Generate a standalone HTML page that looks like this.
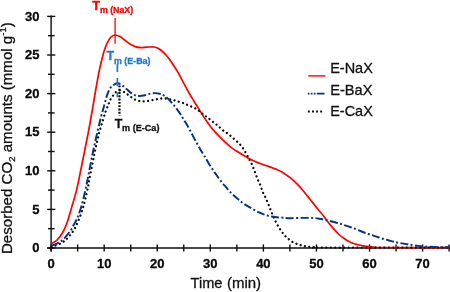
<!DOCTYPE html>
<html><head><meta charset="utf-8"><title>CO2 desorption</title>
<style>
html,body{margin:0;padding:0;background:#fff;}
body{width:450px;height:292px;overflow:hidden;}
svg{display:block;font-family:"Liberation Sans",sans-serif;}
text{stroke-width:0.3;stroke-linejoin:round;}
.k{stroke:#111;}
.b{font-weight:bold;font-size:13px;fill:#0a0a0a;stroke:#0a0a0a;}
.ax line{stroke:#0d0d0d;stroke-width:1.4;}
</style></head><body>
<svg width="450" height="292" viewBox="0 0 450 292">
<rect width="450" height="292" fill="#fff"/>
<g class="ax">
<line x1="51.1" y1="15.6" x2="51.1" y2="251.6"/>
<line x1="47.2" y1="248.0" x2="450" y2="248.0"/>
<line x1="51.10" y1="244.4" x2="51.10" y2="251.6"/><line x1="77.64" y1="244.4" x2="77.64" y2="251.6"/><line x1="104.17" y1="244.4" x2="104.17" y2="251.6"/><line x1="130.71" y1="244.4" x2="130.71" y2="251.6"/><line x1="157.24" y1="244.4" x2="157.24" y2="251.6"/><line x1="183.78" y1="244.4" x2="183.78" y2="251.6"/><line x1="210.31" y1="244.4" x2="210.31" y2="251.6"/><line x1="236.84" y1="244.4" x2="236.84" y2="251.6"/><line x1="263.38" y1="244.4" x2="263.38" y2="251.6"/><line x1="289.92" y1="244.4" x2="289.92" y2="251.6"/><line x1="316.45" y1="244.4" x2="316.45" y2="251.6"/><line x1="342.99" y1="244.4" x2="342.99" y2="251.6"/><line x1="369.52" y1="244.4" x2="369.52" y2="251.6"/><line x1="396.06" y1="244.4" x2="396.06" y2="251.6"/><line x1="422.59" y1="244.4" x2="422.59" y2="251.6"/><line x1="449.13" y1="244.4" x2="449.13" y2="251.6"/><line x1="47.2" y1="248.00" x2="55.3" y2="248.00"/><line x1="47.2" y1="209.40" x2="55.3" y2="209.40"/><line x1="47.2" y1="170.80" x2="55.3" y2="170.80"/><line x1="47.2" y1="132.20" x2="55.3" y2="132.20"/><line x1="47.2" y1="93.60" x2="55.3" y2="93.60"/><line x1="47.2" y1="55.00" x2="55.3" y2="55.00"/><line x1="47.2" y1="16.40" x2="55.3" y2="16.40"/><line x1="48" y1="228.70" x2="54.6" y2="228.70"/><line x1="48" y1="190.10" x2="54.6" y2="190.10"/><line x1="48" y1="151.50" x2="54.6" y2="151.50"/><line x1="48" y1="112.90" x2="54.6" y2="112.90"/><line x1="48" y1="74.30" x2="54.6" y2="74.30"/><line x1="48" y1="35.70" x2="54.6" y2="35.70"/>
</g>
<g class="b"><text x="51.10" y="268.3" text-anchor="middle">0</text><text x="104.17" y="268.3" text-anchor="middle">10</text><text x="157.24" y="268.3" text-anchor="middle">20</text><text x="210.31" y="268.3" text-anchor="middle">30</text><text x="263.38" y="268.3" text-anchor="middle">40</text><text x="316.45" y="268.3" text-anchor="middle">50</text><text x="369.52" y="268.3" text-anchor="middle">60</text><text x="422.59" y="268.3" text-anchor="middle">70</text><text x="39.4" y="252.15" text-anchor="end">0</text><text x="39.4" y="213.55" text-anchor="end">5</text><text x="39.4" y="174.95" text-anchor="end">10</text><text x="39.4" y="136.35" text-anchor="end">15</text><text x="39.4" y="97.75" text-anchor="end">20</text><text x="39.4" y="59.15" text-anchor="end">25</text><text x="39.4" y="20.55" text-anchor="end">30</text></g>
<text class="k" y="288.3" font-size="14.6" fill="#111"><tspan x="190.6">Time</tspan> <tspan x="226.9" textLength="34.2" lengthAdjust="spacingAndGlyphs">(min)</tspan></text>
<text transform="translate(12 254.1) rotate(-90)" class="k" font-size="15.1" fill="#111">Desorbed CO<tspan font-size="9.5" dy="3">2</tspan><tspan dy="-3"> amounts (mmol g</tspan><tspan font-size="9.5" dy="-6.5">-1</tspan><tspan dy="6.5">)</tspan></text>
<path d="M51.2 243.8C52.2 243.2 55.0 242.0 57.0 240.0C59.0 238.0 61.3 234.9 63.0 232.0C64.7 229.1 66.0 225.2 67.0 222.8C68.0 220.4 68.1 219.4 68.7 217.4C69.3 215.4 69.9 213.4 70.7 210.7C71.5 208.0 72.5 204.5 73.4 201.4C74.3 198.3 75.3 194.9 76.1 192.0C76.8 189.1 77.5 186.0 77.9 184.0C78.4 182.0 78.3 182.3 78.8 180.0C79.3 177.7 80.1 173.3 80.8 170.0C81.5 166.7 82.1 163.3 82.8 160.0C83.5 156.7 83.9 154.7 84.8 150.0C85.7 145.3 87.2 138.3 88.4 132.0C89.6 125.7 90.9 118.3 92.0 112.0C93.1 105.7 93.9 100.3 95.0 94.0C96.1 87.7 97.6 79.2 98.6 74.0C99.6 68.8 100.1 66.8 101.0 63.0C101.9 59.2 103.0 54.8 104.0 51.5C105.0 48.2 105.8 45.8 107.0 43.4C108.2 41.0 109.7 38.4 111.0 37.0C112.3 35.6 113.5 35.1 115.0 35.0C116.5 34.9 118.3 35.7 120.0 36.6C121.7 37.5 123.3 39.1 125.0 40.3C126.7 41.5 128.3 43.0 130.0 44.0C131.7 45.0 133.2 46.0 135.0 46.6C136.8 47.2 139.2 47.5 141.0 47.6C142.8 47.7 144.5 47.2 146.0 47.1C147.5 47.0 148.7 47.0 150.0 47.0C151.3 46.9 152.7 46.8 154.0 47.0C155.3 47.2 156.7 47.6 158.0 48.3C159.3 49.0 160.7 49.9 162.0 51.0C163.3 52.1 164.7 53.5 166.0 55.0C167.3 56.5 168.7 58.2 170.0 60.0C171.3 61.8 172.7 63.9 174.0 66.0C175.3 68.1 176.7 70.1 178.0 72.4C179.3 74.7 180.7 77.3 182.0 79.8C183.3 82.3 184.7 84.8 186.0 87.3C187.3 89.8 188.7 92.2 190.0 94.5C191.3 96.8 192.7 99.0 194.0 101.2C195.3 103.4 196.5 105.2 198.0 107.6C199.5 110.0 201.5 113.2 203.0 115.6C204.5 118.0 205.7 119.9 207.0 121.8C208.3 123.7 209.7 125.5 211.0 127.2C212.3 128.9 213.4 130.1 215.0 131.8C216.6 133.5 218.5 135.6 220.3 137.4C222.1 139.2 223.9 141.0 225.7 142.7C227.5 144.4 229.2 146.0 231.0 147.4C232.8 148.8 234.6 149.8 236.4 151.0C238.2 152.2 239.9 153.2 241.7 154.3C243.5 155.4 245.3 156.4 247.1 157.4C248.9 158.4 250.6 159.3 252.4 160.2C254.2 161.1 256.0 161.9 257.8 162.6C259.6 163.3 261.3 164.0 263.1 164.6C264.9 165.2 267.0 165.9 268.5 166.4C270.0 166.9 270.6 167.1 272.1 167.7C273.6 168.3 275.6 169.0 277.4 169.8C279.2 170.6 281.0 171.5 282.8 172.6C284.6 173.7 286.6 175.3 288.1 176.3C289.6 177.3 290.2 177.6 291.7 178.8C293.2 180.1 295.2 182.0 297.0 183.8C298.8 185.6 300.6 187.6 302.4 189.7C304.2 191.8 305.9 194.2 307.7 196.4C309.5 198.6 311.3 200.9 313.1 203.1C314.9 205.3 316.8 207.8 318.4 209.8C320.0 211.8 321.6 213.5 323.0 215.3C324.4 217.1 325.7 218.9 327.0 220.7C328.3 222.4 329.7 224.2 331.0 225.8C332.3 227.4 333.7 228.9 335.0 230.3C336.3 231.8 337.6 233.2 339.0 234.5C340.4 235.8 341.8 236.8 343.1 237.8C344.5 238.8 345.8 239.7 347.1 240.5C348.4 241.3 349.8 241.9 351.1 242.5C352.4 243.1 353.8 243.6 355.1 244.0C356.4 244.4 357.8 244.7 359.1 245.0C360.4 245.3 361.5 245.5 363.1 245.8C364.7 246.1 366.7 246.4 368.5 246.6C370.3 246.8 371.1 246.9 373.8 247.1C376.6 247.2 372.4 247.4 385.0 247.5C397.6 247.6 438.8 247.6 449.5 247.6" fill="none" stroke="#fe0000" stroke-width="1.7" stroke-linejoin="round"/>
<path d="M51.5 247.0C52.1 246.8 53.1 246.6 55.0 245.8C56.9 245.0 60.7 243.5 63.0 242.0C65.3 240.5 67.0 238.9 69.0 236.6C71.0 234.3 73.0 231.7 75.0 228.0C77.0 224.3 79.3 218.6 80.8 214.5C82.3 210.4 83.2 206.9 84.2 203.4C85.2 199.9 85.9 196.3 86.6 193.4C87.3 190.5 87.8 188.2 88.2 186.0C88.7 183.8 88.8 182.7 89.3 180.0C89.8 177.3 90.5 173.3 91.2 170.0C91.9 166.7 92.5 163.3 93.2 160.0C93.9 156.7 94.2 154.7 95.2 150.0C96.2 145.3 98.1 137.0 99.4 132.0C100.7 127.0 101.9 123.6 103.0 120.0C104.1 116.4 105.0 113.2 106.0 110.5C107.0 107.8 108.0 105.5 108.7 103.7C109.4 101.9 109.6 101.0 110.3 99.7C111.0 98.4 112.1 96.9 113.0 95.7C113.9 94.5 114.5 93.3 115.6 92.4C116.6 91.5 117.9 90.5 119.3 90.4C120.7 90.3 122.7 91.3 124.1 92.0C125.5 92.7 126.8 93.9 127.9 94.7C129.1 95.5 129.8 96.2 131.0 97.0C132.2 97.8 133.5 98.8 134.8 99.5C136.1 100.2 137.6 100.6 139.0 100.9C140.4 101.2 141.7 101.4 143.1 101.4C144.5 101.4 146.1 101.1 147.6 100.9C149.1 100.7 150.5 100.5 152.0 100.2C153.5 99.9 155.0 99.6 156.5 99.3C158.0 99.0 159.4 98.6 160.9 98.5C162.4 98.4 164.0 98.4 165.4 98.5C166.8 98.6 168.0 98.9 169.4 99.2C170.8 99.5 172.4 99.7 173.8 100.1C175.2 100.5 176.3 101.0 177.7 101.4C179.1 101.9 180.9 102.3 182.4 102.8C183.9 103.3 185.1 104.0 186.4 104.5C187.7 105.0 189.0 105.5 190.4 106.1C191.8 106.7 193.5 107.4 194.8 108.1C196.1 108.8 197.2 109.6 198.3 110.4C199.5 111.2 200.5 112.2 201.7 113.1C202.9 114.0 204.2 115.1 205.4 116.0C206.6 116.9 207.8 117.8 209.0 118.7C210.2 119.6 211.3 120.5 212.4 121.4C213.5 122.3 214.6 123.1 215.7 124.0C216.8 124.9 217.9 125.7 219.0 126.7C220.1 127.7 221.2 128.9 222.4 129.8C223.6 130.8 224.8 131.5 226.0 132.4C227.2 133.3 228.5 134.3 229.7 135.2C230.9 136.1 231.9 137.0 233.0 138.0C234.1 139.0 235.3 140.0 236.4 141.0C237.5 142.0 238.5 142.9 239.5 144.0C240.5 145.1 241.5 146.2 242.4 147.4C243.3 148.6 244.0 149.8 244.8 151.1C245.6 152.4 246.4 153.8 247.1 155.1C247.8 156.4 248.5 157.7 249.2 159.0C249.9 160.3 250.7 161.6 251.3 163.0C251.9 164.4 252.4 165.8 253.0 167.2C253.6 168.6 254.1 170.0 254.7 171.4C255.2 172.8 255.8 174.4 256.3 175.8C256.9 177.2 257.4 178.6 258.0 180.0C258.6 181.4 259.2 182.6 259.8 184.0C260.4 185.4 260.9 186.9 261.4 188.3C261.9 189.7 262.4 191.2 263.0 192.5C263.6 193.8 264.1 194.5 264.8 195.9C265.5 197.3 266.4 199.4 267.1 201.2C267.9 203.0 268.6 204.8 269.3 206.6C270.0 208.4 270.7 210.1 271.4 211.9C272.1 213.7 272.9 215.6 273.7 217.3C274.5 219.0 275.2 220.5 276.0 222.1C276.8 223.7 277.6 225.2 278.5 226.7C279.4 228.2 280.4 229.8 281.4 231.2C282.4 232.6 283.3 233.8 284.4 235.1C285.5 236.3 286.7 237.6 288.0 238.7C289.3 239.8 290.7 240.9 292.1 241.7C293.5 242.5 294.9 243.1 296.4 243.7C297.9 244.3 299.5 244.8 301.3 245.3C303.1 245.8 304.7 246.2 307.0 246.5C309.3 246.8 312.0 247.1 315.0 247.3C318.0 247.5 302.6 247.6 325.0 247.6C347.4 247.6 428.8 247.6 449.5 247.6" fill="none" stroke="#0a0a0a" stroke-width="2.3" stroke-linecap="round" stroke-dasharray="0.01 4.45"/>
<path d="M51.5 245.8C52.8 245.3 56.8 244.0 59.0 242.6C61.2 241.2 63.0 239.7 65.0 237.6C67.0 235.5 69.5 232.2 71.0 230.0C72.5 227.8 73.0 226.1 74.0 224.3C75.0 222.6 75.9 221.2 76.7 219.5C77.5 217.8 78.1 216.2 78.9 214.0C79.7 211.8 80.7 208.7 81.5 206.0C82.3 203.3 83.0 200.6 83.6 198.0C84.2 195.4 84.8 193.0 85.3 190.7C85.8 188.4 86.3 185.8 86.7 184.0C87.1 182.2 87.0 182.3 87.5 180.0C88.0 177.7 88.8 173.3 89.4 170.0C90.1 166.7 90.7 163.3 91.4 160.0C92.1 156.7 92.4 154.7 93.4 150.0C94.4 145.3 96.1 137.5 97.4 132.0C98.7 126.5 99.8 121.5 101.0 117.0C102.2 112.5 103.4 108.4 104.4 104.8C105.4 101.2 106.0 98.2 107.0 95.4C108.0 92.6 109.1 89.8 110.3 88.0C111.5 86.2 112.8 85.5 114.0 84.7C115.2 83.9 116.2 83.1 117.6 83.2C119.0 83.3 121.0 84.6 122.5 85.6C124.0 86.6 125.4 88.1 126.8 89.3C128.2 90.5 129.6 92.0 131.0 93.0C132.4 94.0 133.9 94.9 135.3 95.4C136.7 95.9 138.0 96.0 139.6 96.0C141.2 96.0 143.2 95.6 145.0 95.2C146.8 94.8 148.7 93.9 150.4 93.6C152.1 93.2 153.5 93.1 155.1 93.1C156.7 93.1 158.5 93.4 159.8 93.7C161.1 94.0 161.6 94.3 162.7 94.9C163.8 95.5 165.0 96.2 166.2 97.1C167.4 98.0 168.6 99.2 169.8 100.5C171.0 101.8 172.2 103.1 173.4 104.6C174.6 106.0 175.7 107.6 176.9 109.2C178.1 110.8 179.5 112.8 180.5 114.3C181.5 115.8 182.1 117.0 183.0 118.5C183.9 120.0 184.9 121.5 186.0 123.3C187.1 125.1 188.3 127.2 189.5 129.3C190.7 131.4 191.9 133.9 193.0 136.1C194.1 138.2 195.2 140.2 196.3 142.2C197.4 144.2 198.6 146.4 199.7 148.3C200.8 150.2 202.0 152.2 203.0 153.9C204.0 155.6 205.0 156.9 205.8 158.3C206.6 159.7 207.0 160.5 208.0 162.2C209.0 163.9 210.7 166.5 211.9 168.3C213.1 170.2 214.1 171.7 215.2 173.3C216.3 174.9 217.4 176.4 218.6 178.0C219.8 179.6 221.2 181.5 222.4 183.0C223.6 184.5 224.7 185.6 225.8 186.9C226.9 188.2 227.8 189.4 229.1 190.8C230.4 192.2 232.1 193.8 233.6 195.2C235.1 196.6 236.5 197.8 238.0 199.1C239.5 200.3 240.9 201.6 242.4 202.7C243.9 203.8 245.4 204.7 246.9 205.6C248.4 206.5 249.6 207.2 251.3 208.2C253.0 209.2 255.2 210.5 256.9 211.4C258.6 212.3 259.9 212.8 261.4 213.4C262.9 214.0 264.2 214.6 265.8 215.1C267.4 215.6 269.4 216.2 271.2 216.5C273.0 216.8 274.6 217.0 276.5 217.2C278.4 217.4 280.3 217.5 282.7 217.7C285.1 217.9 287.6 218.2 290.7 218.2C293.8 218.2 297.8 217.9 301.3 217.9C304.9 217.9 309.0 217.8 312.0 217.9C315.0 218.0 316.8 218.3 319.2 218.7C321.6 219.1 323.7 219.5 326.3 220.1C328.9 220.7 332.4 221.5 335.0 222.2C337.6 222.9 339.5 223.6 341.7 224.3C343.9 225.0 346.2 225.7 348.4 226.4C350.6 227.2 352.8 228.0 355.0 228.8C357.2 229.7 359.5 230.6 361.7 231.5C363.9 232.4 366.2 233.2 368.4 234.0C370.6 234.8 372.8 235.4 375.0 236.1C377.2 236.8 379.5 237.7 381.7 238.4C383.9 239.1 386.2 239.7 388.4 240.3C390.6 240.9 392.9 241.6 395.1 242.1C397.3 242.6 399.6 243.0 401.8 243.4C404.0 243.8 405.8 244.1 408.5 244.5C411.2 244.9 414.7 245.5 417.8 245.9C420.9 246.3 423.6 246.5 427.3 246.7C431.0 246.9 436.3 247.1 440.0 247.2C443.7 247.3 447.8 247.3 449.4 247.3" fill="none" stroke="#06337f" stroke-width="1.95" stroke-dasharray="8 2.4 2 2.4"/>
<line x1="115.1" y1="18" x2="115.1" y2="43.8" stroke="#fe0000" stroke-width="1.3"/>
<line x1="117.4" y1="63.9" x2="117.4" y2="97.3" stroke="#1f78d1" stroke-width="1.7" stroke-dasharray="8.2 6"/>
<line x1="119.45" y1="85.4" x2="119.45" y2="115.4" stroke="#0a0a0a" stroke-width="2.2" stroke-dasharray="1.9 1.4"/>
<g font-weight="bold">
<text x="92.3" y="9.7" font-size="12.8" fill="#fe0000" stroke="#fe0000">T<tspan font-size="8.8" dy="2.8" dx="-0.2">m (NaX)</tspan></text>
<text x="106.5" y="60.4" font-size="12.6" fill="#1f78d1" stroke="#1f78d1">T<tspan font-size="8.9" dy="3.3" dx="-0.2">m (E-Ba)</tspan></text>
<text x="114.7" y="128.4" font-size="12.5" fill="#111" stroke="#111">T<tspan font-size="9.1" dy="2.6" dx="-0.3">m (E-Ca)</tspan></text>
</g>
<line x1="308.3" y1="75.9" x2="325.4" y2="75.9" stroke="#fe0000" stroke-width="1.4"/>
<line x1="307.8" y1="93.7" x2="324.5" y2="93.7" stroke="#06337f" stroke-width="1.7" stroke-dasharray="1.7 1.3 1.7 1.3 1.7 1.3 7.7 9"/>
<line x1="307.9" y1="111.4" x2="323" y2="111.4" stroke="#0a0a0a" stroke-width="2" stroke-dasharray="1.9 2.2"/>
<g class="k" font-size="13.9" fill="#111">
<text x="330.2" y="72.9" textLength="42.6" lengthAdjust="spacingAndGlyphs">E-NaX</text>
<text x="330.2" y="94.9" textLength="42.2" lengthAdjust="spacingAndGlyphs">E-BaX</text>
<text x="330.2" y="115.9" textLength="42.6" lengthAdjust="spacingAndGlyphs">E-CaX</text>
</g>
</svg>
</body></html>
